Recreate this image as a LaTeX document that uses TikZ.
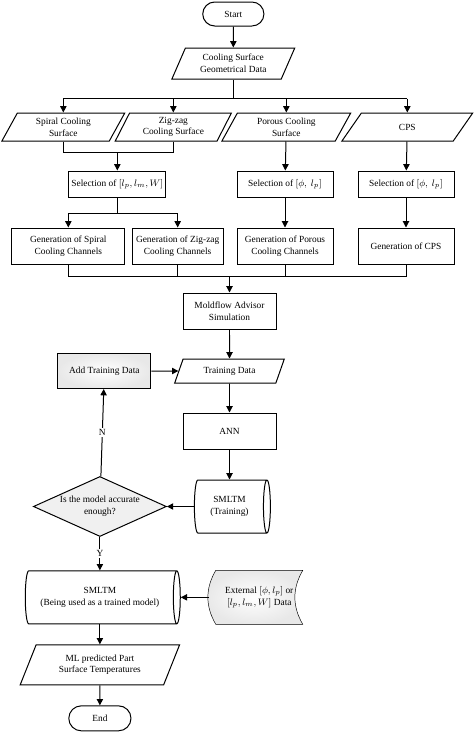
\documentclass[tikz,border=0pt]{standalone}
\usepackage{fontspec}
\setmainfont{Liberation Serif}
\usetikzlibrary{arrows.meta,positioning,shapes.geometric,shapes.misc,calc,backgrounds}

\begin{document}
\begin{tikzpicture}[font=\fontsize{8}{10}\selectfont,line width=0.85pt,
          proc/.style={draw,align=center,minimum height=1.08cm,inner sep=1pt},
          io/.style={draw,trapezium,trapezium left angle=65,trapezium right angle=115,
                     trapezium stretches=true,align=center,minimum height=0.84cm,inner sep=1pt},
          term/.style={draw,rounded rectangle,minimum width=2.07cm,minimum height=0.72cm},
          drum/.style={draw,cylinder,aspect=0.25,align=center,fill=white},
          soft/.style={inner color=white,outer color=gray!18},
          arr/.style={-{Triangle[length=1.9mm,width=1.9mm]}}]
  \useasboundingbox (0,0) rectangle (14.22,-21.96);
  % top of the chart
  \node[term] (start) at (7.0,-0.42) {Start};
  \node[io,minimum width=3.69cm,minimum height=0.93cm,below=0.63cm of start] (geo)
        {Cooling Surface\\Geometrical Data};
  \node[io,minimum width=3.69cm] (spiral) at (1.9,-3.81) {Spiral Cooling\\Surface};
  \node[io,minimum width=3.51cm] (zigzag) at (5.2,-3.81) {Zig-zag\\Cooling Surface};
  \node[io,minimum width=3.87cm] (porous) at (8.59,-3.81) {Porous Cooling\\Surface};
  \node[io,minimum width=3.93cm] (cps) at (12.22,-3.81) {CPS};
  % selections
  \node[proc,minimum width=2.91cm,minimum height=0.78cm] (selA) at (3.52,-5.52)
        {Selection of $[l_p, l_m, W]$};
  \node[proc,minimum width=2.88cm,minimum height=0.78cm] (selB) at (8.55,-5.52)
        {Selection of $[\phi,\ l_p]$};
  \node[proc,minimum width=2.88cm,minimum height=0.78cm] (selC) at (12.18,-5.52)
        {Selection of $[\phi,\ l_p]$};
  % channel generation
  \node[proc,minimum width=3.39cm] (genA) at (2.05,-7.38) {Generation of Spiral\\Cooling Channels};
  \node[proc,minimum width=2.73cm] (genB) at (5.33,-7.38) {Generation of Zig-zag\\Cooling Channels};
  \node[proc,minimum width=2.88cm] (genC) at (8.55,-7.38) {Generation of Porous\\Cooling Channels};
  \node[proc,minimum width=2.88cm] (genD) at (12.18,-7.38) {Generation of CPS};
  % training loop
  \node[proc,minimum width=2.79cm] (sim) at (6.885,-9.33) {Moldflow Advisor\\Simulation};
  \node[io,minimum width=3.3cm,minimum height=0.72cm,below=0.87cm of sim] (train) {Training Data};
  \node[proc,soft,minimum width=2.79cm,minimum height=1.05cm,left=0.81cm of train] (add)
        {Add Training Data};
  \node[proc,minimum width=2.79cm,below=0.87cm of train] (ann) {ANN};
  \node[drum,minimum height=2.28cm,minimum width=1.59cm,below=0.9cm of ann] (smltmA)
        {SMLTM\\(Training)};
  \node[draw,diamond,aspect=2.2,fill=gray!12,align=center,inner sep=0pt,
        minimum width=3.99cm,minimum height=1.8cm,left=0.81cm of smltmA] (check)
        {Is the model accurate\\enough?};
  % use of the trained model
  \node[drum,minimum height=4.65cm,minimum width=1.59cm,below=1.0cm of check] (smltmB)
        {SMLTM\\(Being used as a trained model)};
  \node[align=center,minimum width=2.58cm,minimum height=1.59cm,right=1.05cm of smltmB] (ext)
        {External $[\phi, l_p]$ or\\$[l_p, l_m, W]$ Data};
  \begin{scope}[on background layer]
    \draw[soft] (ext.north west) to[bend right=30] (ext.south west) -- (ext.south east)
          to[bend left=30] (ext.north east) -- cycle;
  \end{scope}
  \node[io,minimum width=4.8cm,minimum height=1.2cm,below=0.6cm of smltmB] (pred)
        {ML predicted Part\\Surface Temperatures};
  \node[term,minimum width=2.1cm,minimum height=0.75cm,below=0.6cm of pred] (end) {End};

  % connectors
  \draw[arr] (start) -- (geo);
  \draw (geo.south) -- ++(0,-0.57) coordinate (fork);
  \draw (spiral.north |- fork) -- (cps.north |- fork);
  \foreach \n in {spiral,zigzag,porous,cps}
    \draw[arr] (\n.north |- fork) -- (\n.north);
  \coordinate (joinA) at ($(selA.north)+(0,0.54)$);
  \draw (spiral.south) |- (joinA) -| (zigzag.south);
  \draw[arr] (joinA) -- (selA);
  \draw[arr] (porous) -- (selB);
  \draw[arr] (cps) -- (selC);
  \draw (selA.south) -- ++(0,-0.48) coordinate (splitA);
  \draw[arr] (splitA) -| (genA.north);
  \draw[arr] (splitA) -| (genB.north);
  \draw[arr] (selB) -- (genC);
  \draw[arr] (selC) -- (genD);
  \coordinate (joinB) at ($(sim.north)+(0,0.48)$);
  \foreach \n in {genA,genB,genC,genD}
    \draw (\n.south) -- (\n.south |- joinB);
  \draw (genA.south |- joinB) -- (genD.south |- joinB);
  \draw[arr] (joinB) -- (sim);
  \draw[arr] (sim) -- (train);
  \draw[arr] (add) -- (train);
  \draw[arr] (train) -- (ann);
  \draw[arr] (ann.south) -- (ann.south |- smltmA.north);
  \draw[arr] (smltmA.west) -- (check.east);
  \draw[arr] (check) -- node[fill=white,inner sep=1pt] {N} (add);
  \draw[arr] (check) -- node[fill=white,inner sep=1pt] {Y} (check.south |- smltmB.north);
  \draw[arr] ([xshift=-2mm]ext.west) -- (smltmB.east);
  \draw[arr] (check.south |- smltmB.south) -- (check.south |- pred.north);
  \draw[arr] (pred) -- (end);
\end{tikzpicture}
\end{document}
